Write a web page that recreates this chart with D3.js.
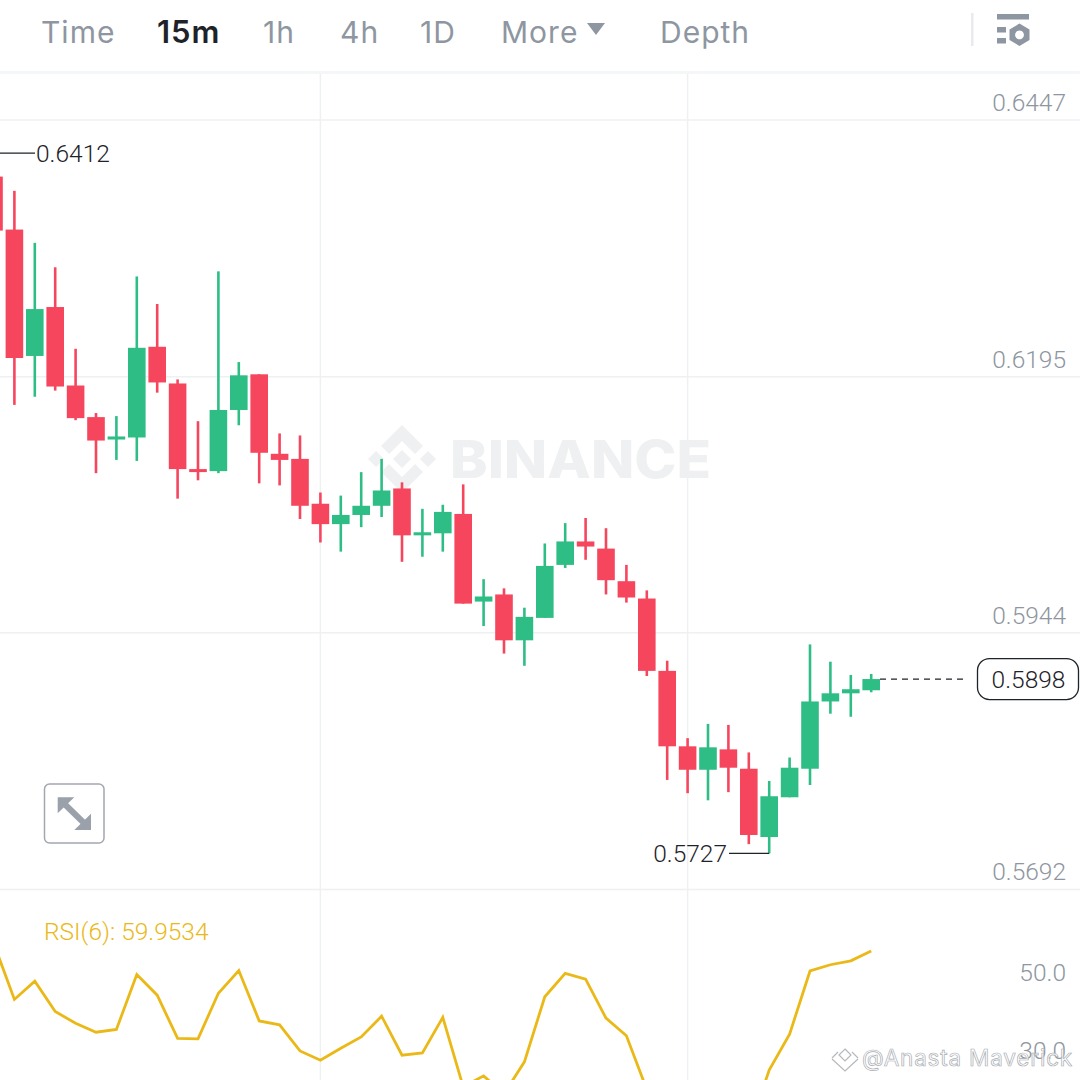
<!DOCTYPE html>
<html lang="en">
    <head>
        <meta http-equiv="Content-Type" content="text/html; charset=UTF-8" />
        <title>15m chart</title>
        <script src="https://cdn.jsdelivr.net/npm/d3@7/dist/d3.min.js"></script>
        <style>
            html, body { margin: 0; padding: 0; background: #fff; overflow: hidden; }
            svg { display: block; font-family: Inter, Roboto, sans-serif; }
            .num { font-family: Roboto, sans-serif; font-size: 24.5px; font-weight: 300; }
        </style>
    </head>
    <body>
        <svg id="chart" width="1080" height="1080" viewBox="0 0 1080 1080"></svg>
        <script>
            // candle values
            const opens = [0.6391, 0.6339, 0.6215, 0.6263, 0.6186, 0.6155, 0.6133, 0.6135, 0.6224, 0.6188, 0.6104, 0.6102, 0.6162, 0.6197, 0.6119, 0.6114, 0.6070, 0.6050, 0.6059, 0.6068, 0.6085, 0.6039, 0.6041, 0.6060, 0.5974, 0.5981, 0.5936, 0.5958, 0.6010, 0.6033, 0.6026, 0.5994, 0.5977, 0.5906, 0.5832, 0.5809, 0.5829, 0.5810, 0.5743, 0.5782, 0.5810, 0.5876, 0.5884, 0.5887]
            const closes = [0.6338, 0.6213, 0.6261, 0.6185, 0.6154, 0.6132, 0.6136, 0.6223, 0.6189, 0.6104, 0.6102, 0.6162, 0.6196, 0.6120, 0.6113, 0.6068, 0.6050, 0.6059, 0.6068, 0.6083, 0.6039, 0.6042, 0.6062, 0.5972, 0.5979, 0.5936, 0.5959, 0.6009, 0.6033, 0.6028, 0.5995, 0.5978, 0.5906, 0.5832, 0.5809, 0.5831, 0.5811, 0.5745, 0.5783, 0.5811, 0.5876, 0.5884, 0.5888, 0.5898]
            const highs = [0.6412, 0.6377, 0.6326, 0.6302, 0.6222, 0.6159, 0.6156, 0.6293, 0.6266, 0.6192, 0.6151, 0.6298, 0.6209, 0.6197, 0.6139, 0.6137, 0.6081, 0.6078, 0.6101, 0.6114, 0.6091, 0.6065, 0.6069, 0.6089, 0.5996, 0.5987, 0.5968, 0.6031, 0.6051, 0.6056, 0.6046, 0.6010, 0.5985, 0.5916, 0.5840, 0.5854, 0.5853, 0.5826, 0.5798, 0.5821, 0.5932, 0.5915, 0.5902, 0.5903]
            const lows = [0.6330, 0.6167, 0.6175, 0.6181, 0.6152, 0.6100, 0.6113, 0.6112, 0.6179, 0.6075, 0.6093, 0.6100, 0.6147, 0.6090, 0.6088, 0.6055, 0.6032, 0.6023, 0.6047, 0.6057, 0.6013, 0.6018, 0.6023, 0.5972, 0.5950, 0.5923, 0.5911, 0.5958, 0.6007, 0.6015, 0.5981, 0.5973, 0.5901, 0.5799, 0.5786, 0.5779, 0.5787, 0.5736, 0.5727, 0.5782, 0.5794, 0.5864, 0.5861, 0.5885]

            // the stretch under 30 runs off the bottom of the page, those are guesses
            const rsi = [61.7, 47.5, 52.2, 44.4, 41.4, 39.1, 39.8, 53.9, 48.6, 37.5, 37.4, 49.1, 54.9, 42.0, 41.0, 34.3, 31.9, 35.0, 37.9, 43.2, 33.2, 33.8, 42.9, 25.1, 27.9, 23.3, 31.5, 48.2, 54.2, 52.7, 42.7, 38.2, 24.4, 17.0, 15.5, 18.0, 17.0, 14.0, 29.4, 38.6, 54.8, 56.4, 57.4, 59.95]

            const priceTicks = [0.6447, 0.6195, 0.5944, 0.5692]
            const rsiTicks = [50, 30]
            const timeGrid = [16, 34]
            const highMark = 0.6412
            const lowMark = 0.5727
            const lastPrice = 0.5898
            const rsiLabel = 'RSI(6): 59.9534'
            const menu = ['Time', '15m', '1h', '4h', '1D', 'More', 'Depth']
            const menuX = [41, 157, 263, 340, 420, 501, 660]

            const RED = '#F6465D'
            const GREEN = '#2EBD85'
            const GRID = '#EEF0F2'
            const GREY = '#8E96A1'
            const DARK = '#1E2329'

            const svg = d3.select('#chart')

            const x = d3.scaleLinear().domain([0, 43]).range([-6, 871.2])
            const y = d3.scaleLinear().domain([0.6447, 0.5692]).range([119.5, 889])
            const yRsi = d3.scaleLinear().domain([50, 30]).range([989.7, 1067.7])

            svg.append('rect').attr('width', 1080).attr('height', 1080).attr('fill', '#fff')

            // grid, vertical first
            svg.selectAll('line.time')
                .data(timeGrid)
                .enter()
                .append('line')
                .attr('class', 'time')
                .attr('x1', d => x(d))
                .attr('x2', d => x(d))
                .attr('y1', 74)
                .attr('y2', 1080)
                .style('stroke', GRID)
                .style('stroke-width', 1.5)

            const priceAxis = d3.axisRight(y)
                .tickValues(priceTicks)
                .tickFormat(d3.format('.4f'))
                .tickSize(-1080)

            const axisG = svg.append('g')
                .attr('transform', 'translate(1080,0)')
                .call(priceAxis)
            axisG.select('.domain').remove()
            axisG.selectAll('line').style('stroke', GRID).style('stroke-width', 1.5)
            axisG.selectAll('text')
                .attr('class', 'num')
                .attr('x', -14)
                .attr('dy', '-0.37em')
                .attr('text-anchor', 'end')
                .style('fill', GREY)

            const rsiAxis = d3.axisRight(yRsi)
                .tickValues(rsiTicks)
                .tickFormat(d3.format('.1f'))
                .tickSize(0)

            const rsiG = svg.append('g')
                .attr('transform', 'translate(1080,0)')
                .call(rsiAxis)
            rsiG.select('.domain').remove()
            rsiG.selectAll('text')
                .attr('class', 'num')
                .attr('x', -14)
                .attr('dy', '-0.37em')
                .attr('text-anchor', 'end')
                .style('fill', GREY)

            // binance watermark goes under the candles
            const logo = svg.append('g').attr('transform', 'translate(402,459)').style('fill', '#EEF0F1')
            logo.selectAll('path')
                .data([
                    'M0,-34L21,-13L13,-5L0,-18L-13,-5L-21,-13Z',
                    'M0,34L21,13L13,5L0,18L-13,5L-21,13Z',
                    'M0,-9L9,0L0,9L-9,0Z',
                    'M-26,-8L-18,0L-26,8L-34,0Z',
                    'M26,-8L34,0L26,8L18,0Z'
                ])
                .enter()
                .append('path')
                .attr('d', d => d)

            svg.append('text')
                .attr('x', 450)
                .attr('y', 478)
                .attr('textLength', 261)
                .attr('lengthAdjust', 'spacingAndGlyphs')
                .style('font-size', '52px')
                .style('font-weight', 800)
                .style('fill', '#EEF0F1')
                .text('BINANCE')

            // candles
            const candles = opens.map((o, i) => ({ i, o, c: closes[i], h: highs[i], l: lows[i] }))

            const g = svg.selectAll('.candle')
                .data(candles)
                .enter()
                .append('g')
                .attr('class', 'candle')
                .style('fill', d => d.c >= d.o ? GREEN : RED)
                .style('stroke', d => d.c >= d.o ? GREEN : RED)

            g.append('line')
                .attr('x1', d => x(d.i))
                .attr('x2', d => x(d.i))
                .attr('y1', d => y(d.h))
                .attr('y2', d => y(d.l))
                .style('stroke-width', 2.6)

            g.append('rect')
                .attr('x', d => x(d.i) - 8.8)
                .attr('width', 17.6)
                .attr('y', d => y(Math.max(d.o, d.c)))
                .attr('height', d => Math.max(y(Math.min(d.o, d.c)) - y(Math.max(d.o, d.c)), 3))
                .style('stroke', 'none')

            // high / low notes
            svg.append('line')
                .attr('x1', 0).attr('x2', 35)
                .attr('y1', y(highMark) - 2).attr('y2', y(highMark) - 2)
                .style('stroke', DARK).style('stroke-width', 1.2)
            svg.append('text')
                .attr('class', 'num')
                .attr('x', 36)
                .attr('y', y(highMark) - 2)
                .attr('dy', '0.36em')
                .style('fill', DARK)
                .text(highMark.toFixed(4))

            svg.append('line')
                .attr('x1', 729).attr('x2', x(38))
                .attr('y1', y(lowMark)).attr('y2', y(lowMark))
                .style('stroke', DARK).style('stroke-width', 1.2)
            svg.append('text')
                .attr('class', 'num')
                .attr('x', 727)
                .attr('y', y(lowMark))
                .attr('dy', '0.36em')
                .attr('text-anchor', 'end')
                .style('fill', DARK)
                .text(lowMark.toFixed(4))

            // last price
            svg.append('line')
                .attr('x1', x(43) + 8.8).attr('x2', 963)
                .attr('y1', y(lastPrice)).attr('y2', y(lastPrice))
                .style('stroke', DARK).style('stroke-width', 1.2)
                .style('stroke-dasharray', '6 5')
            svg.append('rect')
                .attr('x', 977.5).attr('y', y(lastPrice) - 20.5)
                .attr('width', 101).attr('height', 41).attr('rx', 12)
                .style('fill', '#fff').style('stroke', DARK).style('stroke-width', 1.3)
            svg.append('text')
                .attr('class', 'num')
                .attr('x', 1028.5)
                .attr('y', y(lastPrice))
                .attr('dy', '0.36em')
                .attr('text-anchor', 'middle')
                .style('fill', DARK)
                .text(lastPrice.toFixed(4))

            // expand button
            svg.append('rect')
                .attr('x', 44.5).attr('y', 784)
                .attr('width', 59.5).attr('height', 59).attr('rx', 5)
                .style('fill', '#fff').style('stroke', '#A3A8B0').style('stroke-width', 1.5)
            svg.append('path')
                .attr('d', 'M57.7,797.3L74.3,797.3L57.7,813.3Z M91,830L91,813.7L74.3,830Z')
                .style('fill', '#9AA1AB')
            svg.append('line')
                .attr('x1', 64).attr('y1', 803.5).attr('x2', 84.5).attr('y2', 823.5)
                .style('stroke', '#9AA1AB').style('stroke-width', 6)

            // rsi panel
            const line = d3.line()
                .x((d, i) => x(i))
                .y(d => yRsi(d))

            svg.append('path')
                .attr('d', line(rsi))
                .style('fill', 'none')
                .style('stroke', '#EAB918')
                .style('stroke-width', 2.8)
                .style('stroke-linejoin', 'miter')

            svg.append('text')
                .attr('class', 'num')
                .attr('x', 44)
                .attr('y', 940)
                .style('fill', '#EAB918')
                .text(rsiLabel)

            // toolbar
            svg.append('rect')
                .attr('x', 0).attr('y', 71).attr('width', 1080).attr('height', 3)
                .style('fill', '#F5F6F7')

            svg.selectAll('text.menu')
                .data(menu)
                .enter()
                .append('text')
                .attr('class', 'menu')
                .attr('x', (d, i) => menuX[i])
                .attr('y', 43)
                .style('font-size', d => d === '15m' ? '31px' : '30px')
                .style('letter-spacing', '1px')
                .style('font-weight', d => d === '15m' ? 600 : 400)
                .style('fill', d => d === '15m' ? DARK : GREY)
                .text(d => d)

            svg.append('path')
                .attr('d', 'M587,23L605,23L596,35Z')
                .style('fill', GREY)

            svg.append('rect')
                .attr('x', 971).attr('y', 13).attr('width', 2.5).attr('height', 33)
                .style('fill', '#E8EAED')

            const icon = svg.append('g').style('fill', GREY)
            icon.append('rect').attr('x', 997).attr('y', 14).attr('width', 32).attr('height', 5.5)
            icon.append('rect').attr('x', 997).attr('y', 27).attr('width', 9).attr('height', 5.5)
            icon.append('rect').attr('x', 997).attr('y', 38).attr('width', 9).attr('height', 5.5)
            icon.append('path')
                .attr('fill-rule', 'evenodd')
                .attr('d', 'M1019.5,23.5L1029.5,29.5L1029.5,40L1019.5,46L1009.5,40L1009.5,29.5Z M1019.5,30.5a4.4,4.4 0 1,0 0.01,0Z')

            // post watermark, sits on top of everything
            const wm = svg.append('g')
            wm.append('path')
                .attr('d', 'M845,1049L851,1055L845,1061L839,1055Z M832,1058L838,1052 M858,1058L852,1052 M832,1059L845,1071L858,1059')
                .style('fill', 'none')
                .style('stroke', '#B5B8BD')
                .style('stroke-width', 1.2)
            wm.append('text')
                .attr('x', 862)
                .attr('y', 1066)
                .style('font-size', '22.5px')
                .style('font-weight', 400)
                .style('letter-spacing', '0.8px')
                .style('fill', 'rgba(255,255,255,0.75)')
                .style('stroke', '#A9ADB3')
                .style('stroke-width', 0.7)
                .text('@Anasta Maverick')
        </script>
    </body>
</html>
